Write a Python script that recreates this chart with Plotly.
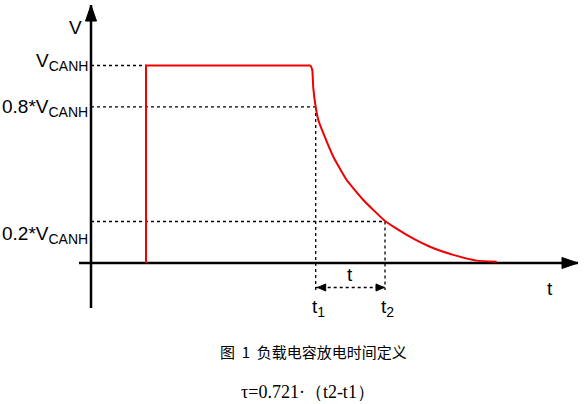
import plotly.graph_objects as go

# ---- data (time in arbitrary units, voltage normalised to V_CANH) ----
pulse_t = [5.5, 5.5, 21.97]
pulse_v = [0.0, 1.0, 1.0]
decay_t = [21.97, 22.13, 22.23, 22.47, 22.73, 23.23, 24.23, 25.57,
           27.23, 29.4, 31.57, 33.9, 36.23, 38.57, 40.57]
decay_v = [1.0, 0.977, 0.885, 0.79, 0.724, 0.657, 0.538, 0.420,
           0.319, 0.213, 0.142, 0.082, 0.041, 0.012, 0.006]

level_v = [1.0, 0.79, 0.21]
level_t_end = [5.5, 22.47, 29.4]
level_labels = ["V<sub>CANH</sub>", "0.8*V<sub>CANH</sub>", "0.2*V<sub>CANH</sub>"]
level_label_v = [1.02, 0.787, 0.142]

t1, t2 = 22.47, 29.4
marker_labels = ["t<sub>1</sub>", "t<sub>2</sub>"]
marker_label_t = [22.75, 29.6]

t_axis = [-1.2, 48.7]
v_axis = [-0.228, 1.306]

caption = "图\u00a0 1\u00a0 负载电容放电时间定义"
formula = "τ=0.721·（t2-t1）"

# ---- scales ----
x_range = [-9.1, 49.3]
y_range = [-0.714, 1.3316]
W, H = 584, 404
px_x = W / (x_range[1] - x_range[0])
px_y = H / (y_range[1] - y_range[0])

fig = go.Figure()

# axes lines
fig.add_trace(go.Scatter(x=t_axis, y=[0, 0], mode="lines",
                         line=dict(color="black", width=2.5), hoverinfo="skip"))
fig.add_trace(go.Scatter(x=[0, 0], y=v_axis, mode="lines",
                         line=dict(color="black", width=2.5), hoverinfo="skip"))

def tri(tip_x, tip_y, direction, length_px, width_px):
    L = length_px
    w = width_px / 2
    if direction == "up":
        xs = [tip_x, tip_x - w / px_x, tip_x + w / px_x, tip_x]
        ys = [tip_y, tip_y - L / px_y, tip_y - L / px_y, tip_y]
    elif direction == "right":
        xs = [tip_x, tip_x - L / px_x, tip_x - L / px_x, tip_x]
        ys = [tip_y, tip_y + w / px_y, tip_y - w / px_y, tip_y]
    else:  # left
        xs = [tip_x, tip_x + L / px_x, tip_x + L / px_x, tip_x]
        ys = [tip_y, tip_y + w / px_y, tip_y - w / px_y, tip_y]
    return go.Scatter(x=xs, y=ys, mode="lines", fill="toself", fillcolor="black",
                      line=dict(color="black", width=1), hoverinfo="skip")

fig.add_trace(tri(0, v_axis[1], "up", 16, 11))
fig.add_trace(tri(t_axis[1], 0, "right", 16, 11))

# dotted reference lines
dot = dict(color="black", width=1.3, dash="dot")
for v, te in zip(level_v, level_t_end):
    fig.add_trace(go.Scatter(x=[0, te], y=[v, v], mode="lines", line=dot, hoverinfo="skip"))
arrow_v = -0.124
drop_v = -0.137
fig.add_trace(go.Scatter(x=[t1, t1], y=[level_v[1], drop_v], mode="lines", line=dot, hoverinfo="skip"))
fig.add_trace(go.Scatter(x=[t2, t2], y=[level_v[2], drop_v], mode="lines", line=dot, hoverinfo="skip"))
fig.add_trace(go.Scatter(x=[t1, t2], y=[arrow_v, arrow_v], mode="lines", line=dot, hoverinfo="skip"))
fig.add_trace(tri(t1 + 0.2, arrow_v, "left", 8, 7))
fig.add_trace(tri(t2 - 0.1, arrow_v, "right", 8, 7))

# waveform
red = "#f00000"
fig.add_trace(go.Scatter(x=pulse_t, y=pulse_v, mode="lines",
                         line=dict(color=red, width=2), hoverinfo="skip"))
fig.add_trace(go.Scatter(x=decay_t, y=decay_v, mode="lines", line_shape="spline",
                         line=dict(color=red, width=2, smoothing=0.4), hoverinfo="skip"))

font = dict(family="Liberation Sans, Arial", size=19, color="black")
sub = lambda s: s.replace("<sub>", "<sub><span style='font-size:14px'>").replace("</sub>", "</span></sub>")

ann = []
ann.append(dict(x=-1.6, y=1.19, text="V", xref="x", yref="y", showarrow=False, font=font))
for lab, lv in zip(level_labels, level_label_v):
    ann.append(dict(x=-0.15, y=lv, text=sub(lab), xref="x", yref="y", showarrow=False,
                    xanchor="right", yanchor="middle", font=font))
ann.append(dict(x=(t1 + t2) / 2, y=-0.056, text="t", xref="x", yref="y", showarrow=False, font=font))
for lab, lt in zip(marker_labels, marker_label_t):
    ann.append(dict(x=lt, y=-0.228, text=sub(lab), xref="x", yref="y", showarrow=False,
                    yanchor="middle", font=font))
ann.append(dict(x=45.9, y=-0.127, text="t", xref="x", yref="y", showarrow=False, font=font))
ann.append(dict(x=0.536, y=0.129, text=caption, xref="paper", yref="paper", showarrow=False,
                xanchor="center", yanchor="middle",
                font=dict(family="Noto Sans CJK SC", size=15, color="black")))
ann.append(dict(x=0.527, y=0.030, text=formula, xref="paper", yref="paper", showarrow=False,
                xanchor="center", yanchor="middle",
                font=dict(family="Liberation Serif, Times New Roman, serif", size=18, color="black")))

fig.update_layout(
    width=W, height=H, margin=dict(l=0, r=0, t=0, b=0),
    paper_bgcolor="white", plot_bgcolor="white", showlegend=False,
    xaxis=dict(range=x_range, visible=False, fixedrange=True),
    yaxis=dict(range=y_range, visible=False, fixedrange=True),
    annotations=ann,
)

fig.write_html("out.html", config={"displayModeBar": False},
               post_script="document.body.style.margin='0';document.body.style.overflow='hidden';")
